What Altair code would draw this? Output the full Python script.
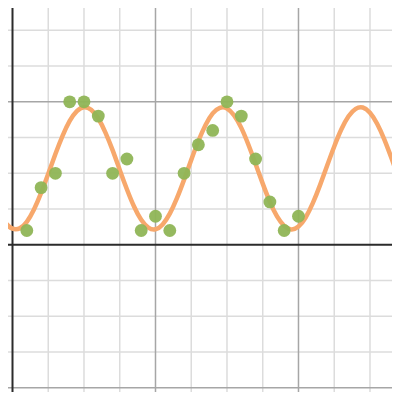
import altair as alt
import pandas as pd

# scatter data (green points)
pts_x = [1, 2, 3, 4, 5, 6, 7, 8, 9, 10, 11, 12, 13, 14, 15, 16, 17, 18, 19, 20]
pts_y = [1, 4, 5, 10, 10, 9, 5, 6, 1, 2, 1, 5, 7, 8, 10, 9, 6, 3, 1, 2]

# fitted curve (orange)
curve_x = [-1, -0.5, 0, 0.5, 1, 1.5, 2, 2.5, 3, 3.5, 4, 4.5, 5, 5.5, 6, 6.5, 7, 7.5,
           8, 8.5, 9, 9.5, 10, 10.5, 11, 11.5, 12, 12.5, 13, 13.5, 14, 14.5, 15,
           15.5, 16, 16.5, 17, 17.5, 18, 18.5, 19, 19.5, 20, 20.5, 21, 21.5, 22,
           22.5, 23, 23.5, 24, 24.5, 25, 25.5, 26, 26.5, 27, 27.5]
curve_y = [2.37, 1.55, 1.13, 1.15, 1.61, 2.47, 3.63, 4.97, 6.35, 7.62, 8.66, 9.35,
           9.62, 9.44, 8.83, 7.85, 6.62, 5.24, 3.89, 2.68, 1.75, 1.21, 1.09, 1.43,
           2.18, 3.26, 4.56, 5.94, 7.26, 8.38, 9.19, 9.58, 9.54, 9.05, 8.18, 7.00,
           5.66, 4.28, 3.01, 1.99, 1.33, 1.08, 1.28, 1.91, 2.91, 4.16, 5.53, 6.88,
           8.08, 8.99, 9.51, 9.60, 9.24, 8.47, 7.38, 6.07, 4.69, 3.37]

# grid line values
minor_x = [-2.5, 2.5, 5, 7.5, 12.5, 15, 17.5, 22.5, 25, 27.5]
major_x = [10, 20]
minor_y = [-7.5, -5, -2.5, 2.5, 5, 7.5, 12.5, 15]
major_y = [-10, 10]

X_DOM = [-0.315, 26.54]
Y_DOM = [-10.29, 16.56]

xs = alt.Scale(domain=X_DOM, nice=False, zero=False)
ys = alt.Scale(domain=Y_DOM, nice=False, zero=False)

df_pts = pd.DataFrame({"x": pts_x, "y": pts_y})
df_curve = pd.DataFrame({"x": curve_x, "y": curve_y})

def vrules(vals, color, width):
    return alt.Chart(pd.DataFrame({"v": vals})).mark_rule(
        color=color, strokeWidth=width, clip=True
    ).encode(x=alt.X("v:Q", scale=xs, axis=None))

def hrules(vals, color, width):
    return alt.Chart(pd.DataFrame({"v": vals})).mark_rule(
        color=color, strokeWidth=width, clip=True
    ).encode(y=alt.Y("v:Q", scale=ys, axis=None))

minor_v = vrules(minor_x, "#dcdcdc", 1.5)
minor_h = hrules(minor_y, "#dcdcdc", 1.5)
major_v = vrules(major_x, "#a6a6a6", 1.5)
major_h = hrules(major_y, "#a6a6a6", 1.5)
axis_v = vrules([0], "#2b2b2b", 2)
axis_h = hrules([0], "#2b2b2b", 2)

curve = alt.Chart(df_curve).mark_line(
    color="#f7a86c", strokeWidth=4.5, interpolate="natural", clip=True
).encode(
    x=alt.X("x:Q", scale=xs, axis=None),
    y=alt.Y("y:Q", scale=ys, axis=None),
    order="x:Q",
)

points = alt.Chart(df_pts).mark_circle(
    color="#8fb556", size=165, opacity=0.95, clip=True
).encode(
    x=alt.X("x:Q", scale=xs, axis=None),
    y=alt.Y("y:Q", scale=ys, axis=None),
)

chart = alt.layer(
    minor_v, minor_h, major_v, major_h, axis_v, axis_h, curve, points
).properties(
    width=384, height=384, padding=0
).configure_view(stroke=None)

chart.save("out.html", embed_options={"renderer": "svg", "actions": False})
